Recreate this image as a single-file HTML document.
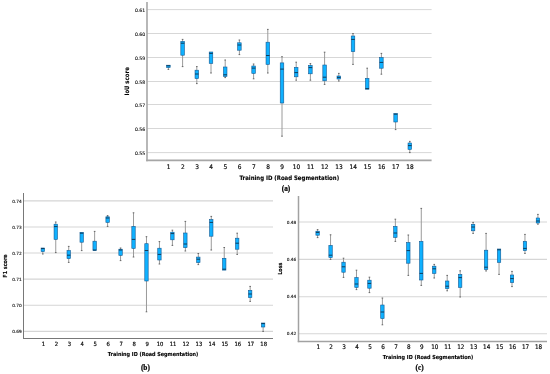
<!DOCTYPE html>
<html><head><meta charset="utf-8"><title>Box plots</title>
<style>
html,body{margin:0;padding:0;background:#fff;}
svg{display:block}
.t{font-family:"DejaVu Sans","Liberation Sans",sans-serif;fill:#000;stroke:#000;stroke-width:0.18px;}
.ty{font-family:"DejaVu Sans","Liberation Sans",sans-serif;fill:#111;stroke:#111;stroke-width:0.12px;}
.b{font-family:"DejaVu Sans","Liberation Sans",sans-serif;font-weight:bold;fill:#000;stroke:#000;stroke-width:0.12px;}
.s{font-family:"Liberation Serif",serif;font-weight:bold;fill:#000;stroke:#000;stroke-width:0.2px;}
</style></head><body>
<svg width="550" height="374" viewBox="0 0 550 374">
<rect width="550" height="374" fill="#fff"/>
<g>
<line x1="147.0" y1="9.6" x2="431.6" y2="9.6" stroke="#d2d2d2" stroke-width="0.9"/>
<line x1="147.0" y1="33.5" x2="431.6" y2="33.5" stroke="#d2d2d2" stroke-width="0.9"/>
<line x1="147.0" y1="57.5" x2="431.6" y2="57.5" stroke="#d2d2d2" stroke-width="0.9"/>
<line x1="147.0" y1="81.5" x2="431.6" y2="81.5" stroke="#d2d2d2" stroke-width="0.9"/>
<line x1="147.0" y1="104.5" x2="431.6" y2="104.5" stroke="#d2d2d2" stroke-width="0.9"/>
<line x1="147.0" y1="128.5" x2="431.6" y2="128.5" stroke="#d2d2d2" stroke-width="0.9"/>
<line x1="147.0" y1="152.6" x2="431.6" y2="152.6" stroke="#d2d2d2" stroke-width="0.9"/>
<line x1="168.40" y1="65.2" x2="168.40" y2="69.4" stroke="#9a9a9a" stroke-width="1.0"/>
<line x1="167.60" y1="69.4" x2="169.20" y2="69.4" stroke="#5a5a5a" stroke-width="0.9"/>
<rect x="166.62" y="65.2" width="3.55" height="2.40" fill="#0fb1ff" stroke="#135a94" stroke-width="0.6"/>
<line x1="166.62" y1="65.8" x2="170.18" y2="65.8" stroke="#0c2f4a" stroke-width="0.9"/>
<line x1="182.60" y1="39.4" x2="182.60" y2="66.6" stroke="#9a9a9a" stroke-width="1.0"/>
<line x1="181.80" y1="39.4" x2="183.40" y2="39.4" stroke="#5a5a5a" stroke-width="0.9"/>
<line x1="181.80" y1="66.6" x2="183.40" y2="66.6" stroke="#5a5a5a" stroke-width="0.9"/>
<rect x="180.82" y="41.4" width="3.55" height="13.80" fill="#0fb1ff" stroke="#135a94" stroke-width="0.6"/>
<line x1="180.82" y1="43.2" x2="184.38" y2="43.2" stroke="#0c2f4a" stroke-width="0.9"/>
<line x1="196.80" y1="66.6" x2="196.80" y2="83.6" stroke="#9a9a9a" stroke-width="1.0"/>
<line x1="196.00" y1="66.6" x2="197.60" y2="66.6" stroke="#5a5a5a" stroke-width="0.9"/>
<line x1="196.00" y1="83.6" x2="197.60" y2="83.6" stroke="#5a5a5a" stroke-width="0.9"/>
<rect x="195.03" y="70.2" width="3.55" height="8.40" fill="#0fb1ff" stroke="#135a94" stroke-width="0.6"/>
<line x1="195.03" y1="74" x2="198.58" y2="74" stroke="#0c2f4a" stroke-width="0.9"/>
<line x1="211.00" y1="52" x2="211.00" y2="73" stroke="#9a9a9a" stroke-width="1.0"/>
<line x1="210.20" y1="73" x2="211.80" y2="73" stroke="#5a5a5a" stroke-width="0.9"/>
<rect x="209.22" y="52" width="3.55" height="11.40" fill="#0fb1ff" stroke="#135a94" stroke-width="0.6"/>
<line x1="209.22" y1="53.4" x2="212.78" y2="53.4" stroke="#0c2f4a" stroke-width="0.9"/>
<line x1="225.20" y1="60" x2="225.20" y2="77.6" stroke="#9a9a9a" stroke-width="1.0"/>
<line x1="224.40" y1="60" x2="226.00" y2="60" stroke="#5a5a5a" stroke-width="0.9"/>
<line x1="224.40" y1="77.6" x2="226.00" y2="77.6" stroke="#5a5a5a" stroke-width="0.9"/>
<rect x="223.42" y="67" width="3.55" height="9.40" fill="#0fb1ff" stroke="#135a94" stroke-width="0.6"/>
<line x1="223.42" y1="74.8" x2="226.97" y2="74.8" stroke="#0c2f4a" stroke-width="0.9"/>
<line x1="239.40" y1="40" x2="239.40" y2="54.6" stroke="#9a9a9a" stroke-width="1.0"/>
<line x1="238.60" y1="40" x2="240.20" y2="40" stroke="#5a5a5a" stroke-width="0.9"/>
<line x1="238.60" y1="54.6" x2="240.20" y2="54.6" stroke="#5a5a5a" stroke-width="0.9"/>
<rect x="237.62" y="42.8" width="3.55" height="7.40" fill="#0fb1ff" stroke="#135a94" stroke-width="0.6"/>
<line x1="237.62" y1="45" x2="241.18" y2="45" stroke="#0c2f4a" stroke-width="0.9"/>
<line x1="253.60" y1="64" x2="253.60" y2="78.8" stroke="#9a9a9a" stroke-width="1.0"/>
<line x1="252.80" y1="64" x2="254.40" y2="64" stroke="#5a5a5a" stroke-width="0.9"/>
<line x1="252.80" y1="78.8" x2="254.40" y2="78.8" stroke="#5a5a5a" stroke-width="0.9"/>
<rect x="251.82" y="66" width="3.55" height="7.40" fill="#0fb1ff" stroke="#135a94" stroke-width="0.6"/>
<line x1="251.82" y1="68.1" x2="255.38" y2="68.1" stroke="#0c2f4a" stroke-width="0.9"/>
<line x1="267.80" y1="29.4" x2="267.80" y2="73" stroke="#9a9a9a" stroke-width="1.0"/>
<line x1="267.00" y1="29.4" x2="268.60" y2="29.4" stroke="#5a5a5a" stroke-width="0.9"/>
<line x1="267.00" y1="73" x2="268.60" y2="73" stroke="#5a5a5a" stroke-width="0.9"/>
<rect x="266.03" y="42.2" width="3.55" height="22.20" fill="#0fb1ff" stroke="#135a94" stroke-width="0.6"/>
<line x1="266.03" y1="55.5" x2="269.57" y2="55.5" stroke="#0c2f4a" stroke-width="0.9"/>
<line x1="282.00" y1="56.7" x2="282.00" y2="136.2" stroke="#9a9a9a" stroke-width="1.0"/>
<line x1="281.20" y1="56.7" x2="282.80" y2="56.7" stroke="#5a5a5a" stroke-width="0.9"/>
<line x1="281.20" y1="136.2" x2="282.80" y2="136.2" stroke="#5a5a5a" stroke-width="0.9"/>
<rect x="280.23" y="62.9" width="3.55" height="40.10" fill="#0fb1ff" stroke="#135a94" stroke-width="0.6"/>
<line x1="280.23" y1="69.1" x2="283.77" y2="69.1" stroke="#0c2f4a" stroke-width="0.9"/>
<line x1="296.20" y1="62.2" x2="296.20" y2="80.2" stroke="#9a9a9a" stroke-width="1.0"/>
<line x1="295.40" y1="62.2" x2="297.00" y2="62.2" stroke="#5a5a5a" stroke-width="0.9"/>
<line x1="295.40" y1="80.2" x2="297.00" y2="80.2" stroke="#5a5a5a" stroke-width="0.9"/>
<rect x="294.43" y="67.4" width="3.55" height="9.40" fill="#0fb1ff" stroke="#135a94" stroke-width="0.6"/>
<line x1="294.43" y1="72.6" x2="297.97" y2="72.6" stroke="#0c2f4a" stroke-width="0.9"/>
<line x1="310.40" y1="63.6" x2="310.40" y2="80.2" stroke="#9a9a9a" stroke-width="1.0"/>
<line x1="309.60" y1="63.6" x2="311.20" y2="63.6" stroke="#5a5a5a" stroke-width="0.9"/>
<line x1="309.60" y1="80.2" x2="311.20" y2="80.2" stroke="#5a5a5a" stroke-width="0.9"/>
<rect x="308.62" y="65.4" width="3.55" height="8.40" fill="#0fb1ff" stroke="#135a94" stroke-width="0.6"/>
<line x1="308.62" y1="67.6" x2="312.17" y2="67.6" stroke="#0c2f4a" stroke-width="0.9"/>
<line x1="324.60" y1="52.2" x2="324.60" y2="84.4" stroke="#9a9a9a" stroke-width="1.0"/>
<line x1="323.80" y1="52.2" x2="325.40" y2="52.2" stroke="#5a5a5a" stroke-width="0.9"/>
<line x1="323.80" y1="84.4" x2="325.40" y2="84.4" stroke="#5a5a5a" stroke-width="0.9"/>
<rect x="322.83" y="65" width="3.55" height="15.80" fill="#0fb1ff" stroke="#135a94" stroke-width="0.6"/>
<line x1="322.83" y1="77.2" x2="326.38" y2="77.2" stroke="#0c2f4a" stroke-width="0.9"/>
<line x1="338.80" y1="73.4" x2="338.80" y2="81" stroke="#9a9a9a" stroke-width="1.0"/>
<line x1="338.00" y1="73.4" x2="339.60" y2="73.4" stroke="#5a5a5a" stroke-width="0.9"/>
<line x1="338.00" y1="81" x2="339.60" y2="81" stroke="#5a5a5a" stroke-width="0.9"/>
<rect x="337.02" y="76" width="3.55" height="3.00" fill="#0fb1ff" stroke="#135a94" stroke-width="0.6"/>
<line x1="337.02" y1="77.4" x2="340.57" y2="77.4" stroke="#0c2f4a" stroke-width="0.9"/>
<line x1="353.00" y1="33.6" x2="353.00" y2="64.4" stroke="#9a9a9a" stroke-width="1.0"/>
<line x1="352.20" y1="33.6" x2="353.80" y2="33.6" stroke="#5a5a5a" stroke-width="0.9"/>
<line x1="352.20" y1="64.4" x2="353.80" y2="64.4" stroke="#5a5a5a" stroke-width="0.9"/>
<rect x="351.23" y="36" width="3.55" height="15.60" fill="#0fb1ff" stroke="#135a94" stroke-width="0.6"/>
<line x1="351.23" y1="39.4" x2="354.77" y2="39.4" stroke="#0c2f4a" stroke-width="0.9"/>
<line x1="367.20" y1="68.2" x2="367.20" y2="89.2" stroke="#9a9a9a" stroke-width="1.0"/>
<line x1="366.40" y1="68.2" x2="368.00" y2="68.2" stroke="#5a5a5a" stroke-width="0.9"/>
<rect x="365.43" y="78.4" width="3.55" height="10.80" fill="#0fb1ff" stroke="#135a94" stroke-width="0.6"/>
<line x1="365.43" y1="88.6" x2="368.97" y2="88.6" stroke="#0c2f4a" stroke-width="0.9"/>
<line x1="381.40" y1="53.4" x2="381.40" y2="74.2" stroke="#9a9a9a" stroke-width="1.0"/>
<line x1="380.60" y1="53.4" x2="382.20" y2="53.4" stroke="#5a5a5a" stroke-width="0.9"/>
<line x1="380.60" y1="74.2" x2="382.20" y2="74.2" stroke="#5a5a5a" stroke-width="0.9"/>
<rect x="379.62" y="57.6" width="3.55" height="10.60" fill="#0fb1ff" stroke="#135a94" stroke-width="0.6"/>
<line x1="379.62" y1="62.4" x2="383.17" y2="62.4" stroke="#0c2f4a" stroke-width="0.9"/>
<line x1="395.60" y1="113.6" x2="395.60" y2="129.6" stroke="#9a9a9a" stroke-width="1.0"/>
<line x1="394.80" y1="129.6" x2="396.40" y2="129.6" stroke="#5a5a5a" stroke-width="0.9"/>
<rect x="393.83" y="113.6" width="3.55" height="8.40" fill="#0fb1ff" stroke="#135a94" stroke-width="0.6"/>
<line x1="393.83" y1="114.2" x2="397.38" y2="114.2" stroke="#0c2f4a" stroke-width="0.9"/>
<line x1="409.80" y1="141.4" x2="409.80" y2="152.6" stroke="#9a9a9a" stroke-width="1.0"/>
<line x1="409.00" y1="141.4" x2="410.60" y2="141.4" stroke="#5a5a5a" stroke-width="0.9"/>
<line x1="409.00" y1="152.6" x2="410.60" y2="152.6" stroke="#5a5a5a" stroke-width="0.9"/>
<rect x="408.02" y="143" width="3.55" height="6.40" fill="#0fb1ff" stroke="#135a94" stroke-width="0.6"/>
<line x1="408.02" y1="145.6" x2="411.57" y2="145.6" stroke="#0c2f4a" stroke-width="0.9"/>
<line x1="147.0" y1="2.0" x2="147.0" y2="161.20000000000002" stroke="#a6a6a6" stroke-width="1.6"/>
<line x1="146.2" y1="160.4" x2="431.6" y2="160.4" stroke="#a6a6a6" stroke-width="1.6"/>
<text transform="translate(145.2,11.86) scale(1.0,1)" font-size="4.6" text-anchor="end" class="ty">0.61</text>
<text transform="translate(145.2,35.76) scale(1.0,1)" font-size="4.6" text-anchor="end" class="ty">0.60</text>
<text transform="translate(145.2,59.76) scale(1.0,1)" font-size="4.6" text-anchor="end" class="ty">0.59</text>
<text transform="translate(145.2,83.76) scale(1.0,1)" font-size="4.6" text-anchor="end" class="ty">0.58</text>
<text transform="translate(145.2,106.76) scale(1.0,1)" font-size="4.6" text-anchor="end" class="ty">0.57</text>
<text transform="translate(145.2,130.76) scale(1.0,1)" font-size="4.6" text-anchor="end" class="ty">0.56</text>
<text transform="translate(145.2,154.86) scale(1.0,1)" font-size="4.6" text-anchor="end" class="ty">0.55</text>
<text transform="translate(168.60,169.05) scale(0.93,1)" font-size="6.3" text-anchor="middle" class="t">1</text>
<text transform="translate(182.80,169.05) scale(0.93,1)" font-size="6.3" text-anchor="middle" class="t">2</text>
<text transform="translate(197.00,169.05) scale(0.93,1)" font-size="6.3" text-anchor="middle" class="t">3</text>
<text transform="translate(211.20,169.05) scale(0.93,1)" font-size="6.3" text-anchor="middle" class="t">4</text>
<text transform="translate(225.40,169.05) scale(0.93,1)" font-size="6.3" text-anchor="middle" class="t">5</text>
<text transform="translate(239.60,169.05) scale(0.93,1)" font-size="6.3" text-anchor="middle" class="t">6</text>
<text transform="translate(253.80,169.05) scale(0.93,1)" font-size="6.3" text-anchor="middle" class="t">7</text>
<text transform="translate(268.00,169.05) scale(0.93,1)" font-size="6.3" text-anchor="middle" class="t">8</text>
<text transform="translate(282.20,169.05) scale(0.93,1)" font-size="6.3" text-anchor="middle" class="t">9</text>
<text transform="translate(296.40,169.05) scale(0.93,1)" font-size="6.3" text-anchor="middle" class="t">10</text>
<text transform="translate(310.60,169.05) scale(0.93,1)" font-size="6.3" text-anchor="middle" class="t">11</text>
<text transform="translate(324.80,169.05) scale(0.93,1)" font-size="6.3" text-anchor="middle" class="t">12</text>
<text transform="translate(339.00,169.05) scale(0.93,1)" font-size="6.3" text-anchor="middle" class="t">13</text>
<text transform="translate(353.20,169.05) scale(0.93,1)" font-size="6.3" text-anchor="middle" class="t">14</text>
<text transform="translate(367.40,169.05) scale(0.93,1)" font-size="6.3" text-anchor="middle" class="t">15</text>
<text transform="translate(381.60,169.05) scale(0.93,1)" font-size="6.3" text-anchor="middle" class="t">16</text>
<text transform="translate(395.80,169.05) scale(0.93,1)" font-size="6.3" text-anchor="middle" class="t">17</text>
<text transform="translate(410.00,169.05) scale(0.93,1)" font-size="6.3" text-anchor="middle" class="t">18</text>
<text transform="translate(289.3,180.36) scale(0.885,1)" font-size="6.10" text-anchor="middle" class="b">Training ID (Road Segmentation)</text>
<text transform="translate(128.96,81.4) rotate(-90) scale(0.885,1)" font-size="6.10" text-anchor="middle" class="b">IoU score</text>
<text x="286" y="190.69" font-size="7.3" text-anchor="middle" class="s">(a)</text>
</g>
<g>
<line x1="23.5" y1="200.85" x2="273.0" y2="200.85" stroke="#d5d5d5" stroke-width="1.1"/>
<line x1="23.5" y1="226.95" x2="273.0" y2="226.95" stroke="#d5d5d5" stroke-width="1.1"/>
<line x1="23.5" y1="253.05" x2="273.0" y2="253.05" stroke="#d5d5d5" stroke-width="1.1"/>
<line x1="23.5" y1="279.15" x2="273.0" y2="279.15" stroke="#d5d5d5" stroke-width="1.1"/>
<line x1="23.5" y1="305.25" x2="273.0" y2="305.25" stroke="#d5d5d5" stroke-width="1.1"/>
<line x1="23.5" y1="331.35" x2="273.0" y2="331.35" stroke="#d5d5d5" stroke-width="1.1"/>
<line x1="42.80" y1="248" x2="42.80" y2="254" stroke="#9a9a9a" stroke-width="1.0"/>
<line x1="42.00" y1="254" x2="43.60" y2="254" stroke="#5a5a5a" stroke-width="0.9"/>
<rect x="41.10" y="248" width="3.4" height="3.60" fill="#0fb1ff" stroke="#135a94" stroke-width="0.6"/>
<line x1="41.10" y1="248.6" x2="44.50" y2="248.6" stroke="#0c2f4a" stroke-width="0.9"/>
<line x1="55.76" y1="222" x2="55.76" y2="252.6" stroke="#9a9a9a" stroke-width="1.0"/>
<line x1="54.96" y1="222" x2="56.56" y2="222" stroke="#5a5a5a" stroke-width="0.9"/>
<line x1="54.96" y1="252.6" x2="56.56" y2="252.6" stroke="#5a5a5a" stroke-width="0.9"/>
<rect x="54.06" y="224.2" width="3.4" height="15.20" fill="#0fb1ff" stroke="#135a94" stroke-width="0.6"/>
<line x1="54.06" y1="226.6" x2="57.46" y2="226.6" stroke="#0c2f4a" stroke-width="0.9"/>
<line x1="68.72" y1="246.4" x2="68.72" y2="262.4" stroke="#9a9a9a" stroke-width="1.0"/>
<line x1="67.92" y1="246.4" x2="69.52" y2="246.4" stroke="#5a5a5a" stroke-width="0.9"/>
<line x1="67.92" y1="262.4" x2="69.52" y2="262.4" stroke="#5a5a5a" stroke-width="0.9"/>
<rect x="67.02" y="250.6" width="3.4" height="8.00" fill="#0fb1ff" stroke="#135a94" stroke-width="0.6"/>
<line x1="67.02" y1="255.2" x2="70.42" y2="255.2" stroke="#0c2f4a" stroke-width="0.9"/>
<line x1="81.68" y1="232.4" x2="81.68" y2="250.6" stroke="#9a9a9a" stroke-width="1.0"/>
<line x1="80.88" y1="250.6" x2="82.48" y2="250.6" stroke="#5a5a5a" stroke-width="0.9"/>
<rect x="79.98" y="232.4" width="3.4" height="9.80" fill="#0fb1ff" stroke="#135a94" stroke-width="0.6"/>
<line x1="79.98" y1="233.2" x2="83.38" y2="233.2" stroke="#0c2f4a" stroke-width="0.9"/>
<line x1="94.64" y1="231.4" x2="94.64" y2="250.6" stroke="#9a9a9a" stroke-width="1.0"/>
<line x1="93.84" y1="231.4" x2="95.44" y2="231.4" stroke="#5a5a5a" stroke-width="0.9"/>
<rect x="92.94" y="241.2" width="3.4" height="9.40" fill="#0fb1ff" stroke="#135a94" stroke-width="0.6"/>
<line x1="92.94" y1="250" x2="96.34" y2="250" stroke="#0c2f4a" stroke-width="0.9"/>
<line x1="107.60" y1="215.6" x2="107.60" y2="226.4" stroke="#9a9a9a" stroke-width="1.0"/>
<line x1="106.80" y1="215.6" x2="108.40" y2="215.6" stroke="#5a5a5a" stroke-width="0.9"/>
<line x1="106.80" y1="226.4" x2="108.40" y2="226.4" stroke="#5a5a5a" stroke-width="0.9"/>
<rect x="105.90" y="216.8" width="3.4" height="5.60" fill="#0fb1ff" stroke="#135a94" stroke-width="0.6"/>
<line x1="105.90" y1="218" x2="109.30" y2="218" stroke="#0c2f4a" stroke-width="0.9"/>
<line x1="120.56" y1="248" x2="120.56" y2="260.6" stroke="#9a9a9a" stroke-width="1.0"/>
<line x1="119.76" y1="248" x2="121.36" y2="248" stroke="#5a5a5a" stroke-width="0.9"/>
<line x1="119.76" y1="260.6" x2="121.36" y2="260.6" stroke="#5a5a5a" stroke-width="0.9"/>
<rect x="118.86" y="249.2" width="3.4" height="6.20" fill="#0fb1ff" stroke="#135a94" stroke-width="0.6"/>
<line x1="118.86" y1="250" x2="122.26" y2="250" stroke="#0c2f4a" stroke-width="0.9"/>
<line x1="133.52" y1="212.8" x2="133.52" y2="257" stroke="#9a9a9a" stroke-width="1.0"/>
<line x1="132.72" y1="212.8" x2="134.32" y2="212.8" stroke="#5a5a5a" stroke-width="0.9"/>
<line x1="132.72" y1="257" x2="134.32" y2="257" stroke="#5a5a5a" stroke-width="0.9"/>
<rect x="131.82" y="226.4" width="3.4" height="22.00" fill="#0fb1ff" stroke="#135a94" stroke-width="0.6"/>
<line x1="131.82" y1="239.4" x2="135.22" y2="239.4" stroke="#0c2f4a" stroke-width="0.9"/>
<line x1="146.48" y1="236.7" x2="146.48" y2="311.8" stroke="#9a9a9a" stroke-width="1.0"/>
<line x1="145.68" y1="236.7" x2="147.28" y2="236.7" stroke="#5a5a5a" stroke-width="0.9"/>
<line x1="145.68" y1="311.8" x2="147.28" y2="311.8" stroke="#5a5a5a" stroke-width="0.9"/>
<rect x="144.78" y="243.7" width="3.4" height="37.30" fill="#0fb1ff" stroke="#135a94" stroke-width="0.6"/>
<line x1="144.78" y1="250.5" x2="148.18" y2="250.5" stroke="#0c2f4a" stroke-width="0.9"/>
<line x1="159.44" y1="241.6" x2="159.44" y2="264" stroke="#9a9a9a" stroke-width="1.0"/>
<line x1="158.64" y1="241.6" x2="160.24" y2="241.6" stroke="#5a5a5a" stroke-width="0.9"/>
<line x1="158.64" y1="264" x2="160.24" y2="264" stroke="#5a5a5a" stroke-width="0.9"/>
<rect x="157.74" y="248.2" width="3.4" height="11.80" fill="#0fb1ff" stroke="#135a94" stroke-width="0.6"/>
<line x1="157.74" y1="254.4" x2="161.14" y2="254.4" stroke="#0c2f4a" stroke-width="0.9"/>
<line x1="172.40" y1="230.2" x2="172.40" y2="245.4" stroke="#9a9a9a" stroke-width="1.0"/>
<line x1="171.60" y1="230.2" x2="173.20" y2="230.2" stroke="#5a5a5a" stroke-width="0.9"/>
<line x1="171.60" y1="245.4" x2="173.20" y2="245.4" stroke="#5a5a5a" stroke-width="0.9"/>
<rect x="170.70" y="232.2" width="3.4" height="7.60" fill="#0fb1ff" stroke="#135a94" stroke-width="0.6"/>
<line x1="170.70" y1="233.6" x2="174.10" y2="233.6" stroke="#0c2f4a" stroke-width="0.9"/>
<line x1="185.36" y1="221.4" x2="185.36" y2="251" stroke="#9a9a9a" stroke-width="1.0"/>
<line x1="184.56" y1="221.4" x2="186.16" y2="221.4" stroke="#5a5a5a" stroke-width="0.9"/>
<line x1="184.56" y1="251" x2="186.16" y2="251" stroke="#5a5a5a" stroke-width="0.9"/>
<rect x="183.66" y="233" width="3.4" height="14.60" fill="#0fb1ff" stroke="#135a94" stroke-width="0.6"/>
<line x1="183.66" y1="244" x2="187.06" y2="244" stroke="#0c2f4a" stroke-width="0.9"/>
<line x1="198.32" y1="253.5" x2="198.32" y2="264.6" stroke="#9a9a9a" stroke-width="1.0"/>
<line x1="197.52" y1="253.5" x2="199.12" y2="253.5" stroke="#5a5a5a" stroke-width="0.9"/>
<line x1="197.52" y1="264.6" x2="199.12" y2="264.6" stroke="#5a5a5a" stroke-width="0.9"/>
<rect x="196.62" y="257.1" width="3.4" height="5.50" fill="#0fb1ff" stroke="#135a94" stroke-width="0.6"/>
<line x1="196.62" y1="259.2" x2="200.02" y2="259.2" stroke="#0c2f4a" stroke-width="0.9"/>
<line x1="211.28" y1="216.4" x2="211.28" y2="250" stroke="#9a9a9a" stroke-width="1.0"/>
<line x1="210.48" y1="216.4" x2="212.08" y2="216.4" stroke="#5a5a5a" stroke-width="0.9"/>
<line x1="210.48" y1="250" x2="212.08" y2="250" stroke="#5a5a5a" stroke-width="0.9"/>
<rect x="209.58" y="219.6" width="3.4" height="16.60" fill="#0fb1ff" stroke="#135a94" stroke-width="0.6"/>
<line x1="209.58" y1="222.4" x2="212.98" y2="222.4" stroke="#0c2f4a" stroke-width="0.9"/>
<line x1="224.24" y1="247.5" x2="224.24" y2="270.1" stroke="#9a9a9a" stroke-width="1.0"/>
<line x1="223.44" y1="247.5" x2="225.04" y2="247.5" stroke="#5a5a5a" stroke-width="0.9"/>
<rect x="222.54" y="258.3" width="3.4" height="11.80" fill="#0fb1ff" stroke="#135a94" stroke-width="0.6"/>
<line x1="222.54" y1="269.2" x2="225.94" y2="269.2" stroke="#0c2f4a" stroke-width="0.9"/>
<line x1="237.20" y1="233.2" x2="237.20" y2="254.4" stroke="#9a9a9a" stroke-width="1.0"/>
<line x1="236.40" y1="233.2" x2="238.00" y2="233.2" stroke="#5a5a5a" stroke-width="0.9"/>
<line x1="236.40" y1="254.4" x2="238.00" y2="254.4" stroke="#5a5a5a" stroke-width="0.9"/>
<rect x="235.50" y="238.2" width="3.4" height="11.00" fill="#0fb1ff" stroke="#135a94" stroke-width="0.6"/>
<line x1="235.50" y1="243.2" x2="238.90" y2="243.2" stroke="#0c2f4a" stroke-width="0.9"/>
<line x1="250.16" y1="286.4" x2="250.16" y2="301.4" stroke="#9a9a9a" stroke-width="1.0"/>
<line x1="249.36" y1="286.4" x2="250.96" y2="286.4" stroke="#5a5a5a" stroke-width="0.9"/>
<line x1="249.36" y1="301.4" x2="250.96" y2="301.4" stroke="#5a5a5a" stroke-width="0.9"/>
<rect x="248.46" y="290.4" width="3.4" height="7.20" fill="#0fb1ff" stroke="#135a94" stroke-width="0.6"/>
<line x1="248.46" y1="294" x2="251.86" y2="294" stroke="#0c2f4a" stroke-width="0.9"/>
<line x1="263.12" y1="323" x2="263.12" y2="331.4" stroke="#9a9a9a" stroke-width="1.0"/>
<line x1="262.32" y1="331.4" x2="263.92" y2="331.4" stroke="#5a5a5a" stroke-width="0.9"/>
<rect x="261.42" y="323" width="3.4" height="4.00" fill="#0fb1ff" stroke="#135a94" stroke-width="0.6"/>
<line x1="261.42" y1="323.6" x2="264.82" y2="323.6" stroke="#0c2f4a" stroke-width="0.9"/>
<line x1="23.5" y1="193.0" x2="23.5" y2="339.0" stroke="#787878" stroke-width="1.0"/>
<line x1="23.0" y1="338.5" x2="273.0" y2="338.5" stroke="#787878" stroke-width="1.0"/>
<text transform="translate(21.8,202.80) scale(1.0,1)" font-size="4.3" text-anchor="end" class="ty">0.74</text>
<text transform="translate(21.8,228.90) scale(1.0,1)" font-size="4.3" text-anchor="end" class="ty">0.73</text>
<text transform="translate(21.8,255.00) scale(1.0,1)" font-size="4.3" text-anchor="end" class="ty">0.72</text>
<text transform="translate(21.8,281.10) scale(1.0,1)" font-size="4.3" text-anchor="end" class="ty">0.71</text>
<text transform="translate(21.8,307.20) scale(1.0,1)" font-size="4.3" text-anchor="end" class="ty">0.70</text>
<text transform="translate(21.8,333.30) scale(1.0,1)" font-size="4.3" text-anchor="end" class="ty">0.69</text>
<text transform="translate(43.40,346.08) scale(0.93,1)" font-size="5.7" text-anchor="middle" class="t">1</text>
<text transform="translate(56.36,346.08) scale(0.93,1)" font-size="5.7" text-anchor="middle" class="t">2</text>
<text transform="translate(69.32,346.08) scale(0.93,1)" font-size="5.7" text-anchor="middle" class="t">3</text>
<text transform="translate(82.28,346.08) scale(0.93,1)" font-size="5.7" text-anchor="middle" class="t">4</text>
<text transform="translate(95.24,346.08) scale(0.93,1)" font-size="5.7" text-anchor="middle" class="t">5</text>
<text transform="translate(108.20,346.08) scale(0.93,1)" font-size="5.7" text-anchor="middle" class="t">6</text>
<text transform="translate(121.16,346.08) scale(0.93,1)" font-size="5.7" text-anchor="middle" class="t">7</text>
<text transform="translate(134.12,346.08) scale(0.93,1)" font-size="5.7" text-anchor="middle" class="t">8</text>
<text transform="translate(147.08,346.08) scale(0.93,1)" font-size="5.7" text-anchor="middle" class="t">9</text>
<text transform="translate(160.04,346.08) scale(0.93,1)" font-size="5.7" text-anchor="middle" class="t">10</text>
<text transform="translate(173.00,346.08) scale(0.93,1)" font-size="5.7" text-anchor="middle" class="t">11</text>
<text transform="translate(185.96,346.08) scale(0.93,1)" font-size="5.7" text-anchor="middle" class="t">12</text>
<text transform="translate(198.92,346.08) scale(0.93,1)" font-size="5.7" text-anchor="middle" class="t">13</text>
<text transform="translate(211.88,346.08) scale(0.93,1)" font-size="5.7" text-anchor="middle" class="t">14</text>
<text transform="translate(224.84,346.08) scale(0.93,1)" font-size="5.7" text-anchor="middle" class="t">15</text>
<text transform="translate(237.80,346.08) scale(0.93,1)" font-size="5.7" text-anchor="middle" class="t">16</text>
<text transform="translate(250.76,346.08) scale(0.93,1)" font-size="5.7" text-anchor="middle" class="t">17</text>
<text transform="translate(263.72,346.08) scale(0.93,1)" font-size="5.7" text-anchor="middle" class="t">18</text>
<text transform="translate(153,356.16) scale(0.885,1)" font-size="5.54" text-anchor="middle" class="b">Training ID (Road Segmentation)</text>
<text transform="translate(6.96,266) rotate(-90) scale(0.885,1)" font-size="5.54" text-anchor="middle" class="b">F1 score</text>
<text x="145.4" y="369.59" font-size="7.3" text-anchor="middle" class="s">(b)</text>
</g>
<g>
<line x1="298.5" y1="222.0" x2="547.0" y2="222.0" stroke="#d6d6d6" stroke-width="1.1"/>
<line x1="298.5" y1="259.4" x2="547.0" y2="259.4" stroke="#d6d6d6" stroke-width="1.1"/>
<line x1="298.5" y1="296.8" x2="547.0" y2="296.8" stroke="#d6d6d6" stroke-width="1.1"/>
<line x1="298.5" y1="333.7" x2="547.0" y2="333.7" stroke="#d6d6d6" stroke-width="1.1"/>
<line x1="317.60" y1="229.6" x2="317.60" y2="237.6" stroke="#9a9a9a" stroke-width="1.0"/>
<line x1="316.80" y1="229.6" x2="318.40" y2="229.6" stroke="#5a5a5a" stroke-width="0.9"/>
<line x1="316.80" y1="237.6" x2="318.40" y2="237.6" stroke="#5a5a5a" stroke-width="0.9"/>
<rect x="315.90" y="231.2" width="3.4" height="4.00" fill="#0fb1ff" stroke="#135a94" stroke-width="0.6"/>
<line x1="315.90" y1="232.4" x2="319.30" y2="232.4" stroke="#0c2f4a" stroke-width="0.9"/>
<line x1="330.56" y1="234.8" x2="330.56" y2="259.4" stroke="#9a9a9a" stroke-width="1.0"/>
<line x1="329.76" y1="234.8" x2="331.36" y2="234.8" stroke="#5a5a5a" stroke-width="0.9"/>
<line x1="329.76" y1="259.4" x2="331.36" y2="259.4" stroke="#5a5a5a" stroke-width="0.9"/>
<rect x="328.86" y="245.4" width="3.4" height="12.20" fill="#0fb1ff" stroke="#135a94" stroke-width="0.6"/>
<line x1="328.86" y1="255.2" x2="332.26" y2="255.2" stroke="#0c2f4a" stroke-width="0.9"/>
<line x1="343.52" y1="258.2" x2="343.52" y2="277.4" stroke="#9a9a9a" stroke-width="1.0"/>
<line x1="342.72" y1="258.2" x2="344.32" y2="258.2" stroke="#5a5a5a" stroke-width="0.9"/>
<line x1="342.72" y1="277.4" x2="344.32" y2="277.4" stroke="#5a5a5a" stroke-width="0.9"/>
<rect x="341.82" y="262.2" width="3.4" height="10.00" fill="#0fb1ff" stroke="#135a94" stroke-width="0.6"/>
<line x1="341.82" y1="266.8" x2="345.22" y2="266.8" stroke="#0c2f4a" stroke-width="0.9"/>
<line x1="356.48" y1="270.2" x2="356.48" y2="289.6" stroke="#9a9a9a" stroke-width="1.0"/>
<line x1="355.68" y1="270.2" x2="357.28" y2="270.2" stroke="#5a5a5a" stroke-width="0.9"/>
<line x1="355.68" y1="289.6" x2="357.28" y2="289.6" stroke="#5a5a5a" stroke-width="0.9"/>
<rect x="354.78" y="277.6" width="3.4" height="9.80" fill="#0fb1ff" stroke="#135a94" stroke-width="0.6"/>
<line x1="354.78" y1="284" x2="358.18" y2="284" stroke="#0c2f4a" stroke-width="0.9"/>
<line x1="369.44" y1="277.2" x2="369.44" y2="292.6" stroke="#9a9a9a" stroke-width="1.0"/>
<line x1="368.64" y1="277.2" x2="370.24" y2="277.2" stroke="#5a5a5a" stroke-width="0.9"/>
<line x1="368.64" y1="292.6" x2="370.24" y2="292.6" stroke="#5a5a5a" stroke-width="0.9"/>
<rect x="367.74" y="280.2" width="3.4" height="8.00" fill="#0fb1ff" stroke="#135a94" stroke-width="0.6"/>
<line x1="367.74" y1="283.4" x2="371.14" y2="283.4" stroke="#0c2f4a" stroke-width="0.9"/>
<line x1="382.40" y1="298" x2="382.40" y2="324.8" stroke="#9a9a9a" stroke-width="1.0"/>
<line x1="381.60" y1="298" x2="383.20" y2="298" stroke="#5a5a5a" stroke-width="0.9"/>
<line x1="381.60" y1="324.8" x2="383.20" y2="324.8" stroke="#5a5a5a" stroke-width="0.9"/>
<rect x="380.70" y="305" width="3.4" height="13.60" fill="#0fb1ff" stroke="#135a94" stroke-width="0.6"/>
<line x1="380.70" y1="312" x2="384.10" y2="312" stroke="#0c2f4a" stroke-width="0.9"/>
<line x1="395.36" y1="219.2" x2="395.36" y2="241.4" stroke="#9a9a9a" stroke-width="1.0"/>
<line x1="394.56" y1="219.2" x2="396.16" y2="219.2" stroke="#5a5a5a" stroke-width="0.9"/>
<line x1="394.56" y1="241.4" x2="396.16" y2="241.4" stroke="#5a5a5a" stroke-width="0.9"/>
<rect x="393.66" y="226.4" width="3.4" height="11.00" fill="#0fb1ff" stroke="#135a94" stroke-width="0.6"/>
<line x1="393.66" y1="233" x2="397.06" y2="233" stroke="#0c2f4a" stroke-width="0.9"/>
<line x1="408.32" y1="235" x2="408.32" y2="275.4" stroke="#9a9a9a" stroke-width="1.0"/>
<line x1="407.52" y1="235" x2="409.12" y2="235" stroke="#5a5a5a" stroke-width="0.9"/>
<line x1="407.52" y1="275.4" x2="409.12" y2="275.4" stroke="#5a5a5a" stroke-width="0.9"/>
<rect x="406.62" y="242.6" width="3.4" height="20.60" fill="#0fb1ff" stroke="#135a94" stroke-width="0.6"/>
<line x1="406.62" y1="250.6" x2="410.02" y2="250.6" stroke="#0c2f4a" stroke-width="0.9"/>
<line x1="421.28" y1="208.4" x2="421.28" y2="285.4" stroke="#9a9a9a" stroke-width="1.0"/>
<line x1="420.48" y1="208.4" x2="422.08" y2="208.4" stroke="#5a5a5a" stroke-width="0.9"/>
<line x1="420.48" y1="285.4" x2="422.08" y2="285.4" stroke="#5a5a5a" stroke-width="0.9"/>
<rect x="419.58" y="241.4" width="3.4" height="38.60" fill="#0fb1ff" stroke="#135a94" stroke-width="0.6"/>
<line x1="419.58" y1="273.4" x2="422.98" y2="273.4" stroke="#0c2f4a" stroke-width="0.9"/>
<line x1="434.24" y1="264.4" x2="434.24" y2="278" stroke="#9a9a9a" stroke-width="1.0"/>
<line x1="433.44" y1="264.4" x2="435.04" y2="264.4" stroke="#5a5a5a" stroke-width="0.9"/>
<line x1="433.44" y1="278" x2="435.04" y2="278" stroke="#5a5a5a" stroke-width="0.9"/>
<rect x="432.54" y="266.2" width="3.4" height="7.20" fill="#0fb1ff" stroke="#135a94" stroke-width="0.6"/>
<line x1="432.54" y1="268.8" x2="435.94" y2="268.8" stroke="#0c2f4a" stroke-width="0.9"/>
<line x1="447.20" y1="275.4" x2="447.20" y2="290.8" stroke="#9a9a9a" stroke-width="1.0"/>
<line x1="446.40" y1="275.4" x2="448.00" y2="275.4" stroke="#5a5a5a" stroke-width="0.9"/>
<line x1="446.40" y1="290.8" x2="448.00" y2="290.8" stroke="#5a5a5a" stroke-width="0.9"/>
<rect x="445.50" y="281" width="3.4" height="7.60" fill="#0fb1ff" stroke="#135a94" stroke-width="0.6"/>
<line x1="445.50" y1="286.2" x2="448.90" y2="286.2" stroke="#0c2f4a" stroke-width="0.9"/>
<line x1="460.16" y1="270.8" x2="460.16" y2="297" stroke="#9a9a9a" stroke-width="1.0"/>
<line x1="459.36" y1="270.8" x2="460.96" y2="270.8" stroke="#5a5a5a" stroke-width="0.9"/>
<line x1="459.36" y1="297" x2="460.96" y2="297" stroke="#5a5a5a" stroke-width="0.9"/>
<rect x="458.46" y="274.4" width="3.4" height="13.00" fill="#0fb1ff" stroke="#135a94" stroke-width="0.6"/>
<line x1="458.46" y1="277.6" x2="461.86" y2="277.6" stroke="#0c2f4a" stroke-width="0.9"/>
<line x1="473.12" y1="222.4" x2="473.12" y2="233.4" stroke="#9a9a9a" stroke-width="1.0"/>
<line x1="472.32" y1="222.4" x2="473.92" y2="222.4" stroke="#5a5a5a" stroke-width="0.9"/>
<line x1="472.32" y1="233.4" x2="473.92" y2="233.4" stroke="#5a5a5a" stroke-width="0.9"/>
<rect x="471.42" y="224.4" width="3.4" height="6.40" fill="#0fb1ff" stroke="#135a94" stroke-width="0.6"/>
<line x1="471.42" y1="227" x2="474.82" y2="227" stroke="#0c2f4a" stroke-width="0.9"/>
<line x1="486.08" y1="233.4" x2="486.08" y2="271" stroke="#9a9a9a" stroke-width="1.0"/>
<line x1="485.28" y1="233.4" x2="486.88" y2="233.4" stroke="#5a5a5a" stroke-width="0.9"/>
<line x1="485.28" y1="271" x2="486.88" y2="271" stroke="#5a5a5a" stroke-width="0.9"/>
<rect x="484.38" y="250.2" width="3.4" height="19.20" fill="#0fb1ff" stroke="#135a94" stroke-width="0.6"/>
<line x1="484.38" y1="267.2" x2="487.78" y2="267.2" stroke="#0c2f4a" stroke-width="0.9"/>
<line x1="499.04" y1="249" x2="499.04" y2="274.4" stroke="#9a9a9a" stroke-width="1.0"/>
<line x1="498.24" y1="274.4" x2="499.84" y2="274.4" stroke="#5a5a5a" stroke-width="0.9"/>
<rect x="497.34" y="249" width="3.4" height="13.40" fill="#0fb1ff" stroke="#135a94" stroke-width="0.6"/>
<line x1="497.34" y1="249.8" x2="500.74" y2="249.8" stroke="#0c2f4a" stroke-width="0.9"/>
<line x1="512.00" y1="271.4" x2="512.00" y2="286.6" stroke="#9a9a9a" stroke-width="1.0"/>
<line x1="511.20" y1="271.4" x2="512.80" y2="271.4" stroke="#5a5a5a" stroke-width="0.9"/>
<line x1="511.20" y1="286.6" x2="512.80" y2="286.6" stroke="#5a5a5a" stroke-width="0.9"/>
<rect x="510.30" y="275" width="3.4" height="7.60" fill="#0fb1ff" stroke="#135a94" stroke-width="0.6"/>
<line x1="510.30" y1="278.6" x2="513.70" y2="278.6" stroke="#0c2f4a" stroke-width="0.9"/>
<line x1="524.96" y1="234.4" x2="524.96" y2="253.4" stroke="#9a9a9a" stroke-width="1.0"/>
<line x1="524.16" y1="234.4" x2="525.76" y2="234.4" stroke="#5a5a5a" stroke-width="0.9"/>
<line x1="524.16" y1="253.4" x2="525.76" y2="253.4" stroke="#5a5a5a" stroke-width="0.9"/>
<rect x="523.26" y="241.4" width="3.4" height="9.20" fill="#0fb1ff" stroke="#135a94" stroke-width="0.6"/>
<line x1="523.26" y1="248.4" x2="526.66" y2="248.4" stroke="#0c2f4a" stroke-width="0.9"/>
<line x1="537.92" y1="214.4" x2="537.92" y2="224.2" stroke="#9a9a9a" stroke-width="1.0"/>
<line x1="537.12" y1="214.4" x2="538.72" y2="214.4" stroke="#5a5a5a" stroke-width="0.9"/>
<line x1="537.12" y1="224.2" x2="538.72" y2="224.2" stroke="#5a5a5a" stroke-width="0.9"/>
<rect x="536.22" y="218" width="3.4" height="5.00" fill="#0fb1ff" stroke="#135a94" stroke-width="0.6"/>
<line x1="536.22" y1="221" x2="539.62" y2="221" stroke="#0c2f4a" stroke-width="0.9"/>
<line x1="298.5" y1="196.0" x2="298.5" y2="342.15" stroke="#a2a2a2" stroke-width="1.5"/>
<line x1="297.75" y1="341.4" x2="547.0" y2="341.4" stroke="#a2a2a2" stroke-width="1.5"/>
<text transform="translate(296.3,223.65) scale(1.0,1)" font-size="4.3" text-anchor="end" class="ty">0.48</text>
<text transform="translate(296.3,261.05) scale(1.0,1)" font-size="4.3" text-anchor="end" class="ty">0.46</text>
<text transform="translate(296.3,298.45) scale(1.0,1)" font-size="4.3" text-anchor="end" class="ty">0.44</text>
<text transform="translate(296.3,335.35) scale(1.0,1)" font-size="4.3" text-anchor="end" class="ty">0.42</text>
<text transform="translate(318.20,348.80) scale(0.9,1)" font-size="6.3" text-anchor="middle" class="t">1</text>
<text transform="translate(331.16,348.80) scale(0.9,1)" font-size="6.3" text-anchor="middle" class="t">2</text>
<text transform="translate(344.12,348.80) scale(0.9,1)" font-size="6.3" text-anchor="middle" class="t">3</text>
<text transform="translate(357.08,348.80) scale(0.9,1)" font-size="6.3" text-anchor="middle" class="t">4</text>
<text transform="translate(370.04,348.80) scale(0.9,1)" font-size="6.3" text-anchor="middle" class="t">5</text>
<text transform="translate(383.00,348.80) scale(0.9,1)" font-size="6.3" text-anchor="middle" class="t">6</text>
<text transform="translate(395.96,348.80) scale(0.9,1)" font-size="6.3" text-anchor="middle" class="t">7</text>
<text transform="translate(408.92,348.80) scale(0.9,1)" font-size="6.3" text-anchor="middle" class="t">8</text>
<text transform="translate(421.88,348.80) scale(0.9,1)" font-size="6.3" text-anchor="middle" class="t">9</text>
<text transform="translate(434.84,348.80) scale(0.9,1)" font-size="6.3" text-anchor="middle" class="t">10</text>
<text transform="translate(447.80,348.80) scale(0.9,1)" font-size="6.3" text-anchor="middle" class="t">11</text>
<text transform="translate(460.76,348.80) scale(0.9,1)" font-size="6.3" text-anchor="middle" class="t">12</text>
<text transform="translate(473.72,348.80) scale(0.9,1)" font-size="6.3" text-anchor="middle" class="t">13</text>
<text transform="translate(486.68,348.80) scale(0.9,1)" font-size="6.3" text-anchor="middle" class="t">14</text>
<text transform="translate(499.64,348.80) scale(0.9,1)" font-size="6.3" text-anchor="middle" class="t">15</text>
<text transform="translate(512.60,348.80) scale(0.9,1)" font-size="6.3" text-anchor="middle" class="t">16</text>
<text transform="translate(525.56,348.80) scale(0.9,1)" font-size="6.3" text-anchor="middle" class="t">17</text>
<text transform="translate(538.52,348.80) scale(0.9,1)" font-size="6.3" text-anchor="middle" class="t">18</text>
<text transform="translate(428,358.96) scale(0.885,1)" font-size="5.54" text-anchor="middle" class="b">Training ID (Road Segmentation)</text>
<text transform="translate(281.66,268.7) rotate(-90) scale(0.885,1)" font-size="5.54" text-anchor="middle" class="b">Loss</text>
<text x="419.6" y="369.79" font-size="7.3" text-anchor="middle" class="s">(c)</text>
</g>
</svg>
</body></html>
